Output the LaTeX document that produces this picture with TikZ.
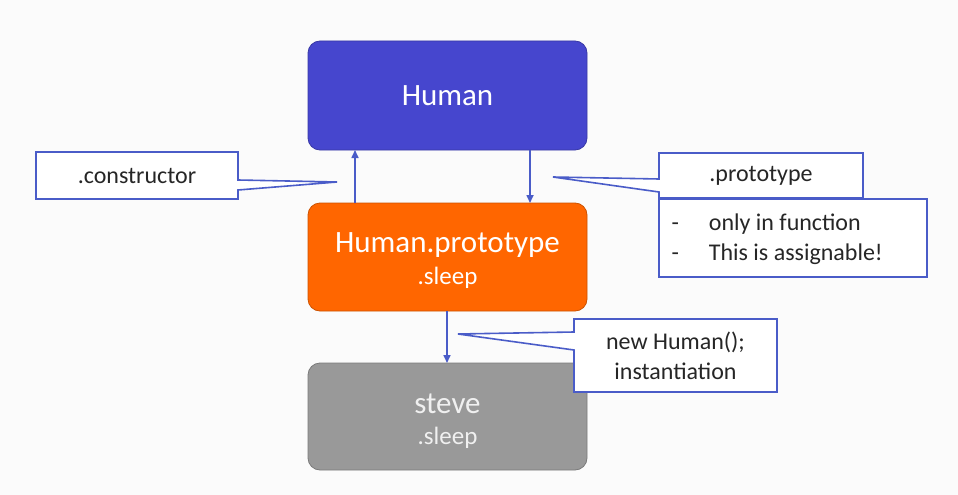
\documentclass[tikz,border=0pt]{standalone}
\usepackage{fontspec}
\setmainfont{Carlito}
\usetikzlibrary{arrows.meta}
\definecolor{hblue}{HTML}{4646CE}
\definecolor{horange}{HTML}{FF6600}
\definecolor{hgray}{HTML}{999999}
\definecolor{cline}{HTML}{4A5CC8}
\definecolor{bg}{HTML}{FBFBFB}
\begin{document}
\begin{tikzpicture}[x=1pt,y=-1pt,
  bigbox/.style={rounded corners=12pt,draw=#1!80!black,fill=#1,line width=0.8pt},
  callout/.style={draw=cline,fill=white,line width=1.6pt,line join=miter},
  ctext/.style={font=\fontsize{24}{30}\selectfont,align=center,text=black!85},
  arr/.style={draw=cline,line width=1.6pt,-{Triangle[length=8pt,width=7pt]}}]
\fill[bg] (0,0) rectangle (958,495);
\useasboundingbox (0,0) rectangle (958,495);
\filldraw[bigbox=hblue] (308,41) rectangle (587,150);
\node[text=white,font=\fontsize{31}{36}\selectfont] (human) at (447.5,96) {Human};
\filldraw[bigbox=horange] (308,203) rectangle (587,311);
\node[text=white,font=\fontsize{31}{36}\selectfont] (proto) at (447.5,245) {Human.prototype};
\node[text=white,font=\fontsize{25}{30}\selectfont] (psleep) at (447.5,278) {.sleep};
\filldraw[bigbox=hgray] (308,363) rectangle (587,470);
\node[text=white!94!black,font=\fontsize{31}{36}\selectfont] (steve) at (447.5,404) {steve};
\node[text=white!94!black,font=\fontsize{25}{30}\selectfont] (ssleep) at (447.5,438) {.sleep};
\coordinate (hb1) at (355,150); \coordinate (pt1) at (355,203);
\coordinate (hb2) at (530,150); \coordinate (pt2) at (530,203);
\coordinate (pb) at (447,311); \coordinate (st) at (447,363);
\draw[arr] (pt1) -- (hb1);
\draw[arr] (hb2) -- (pt2);
\draw[arr] (pb) -- (st);
% constructor callout
\draw[callout] (36,152) -- (238,152) -- (238,180) -- (337,182) -- (238,190) -- (238,199) -- (36,199) -- cycle;
\node[ctext] (cons) at (137,176) {.constructor};
% prototype callout
\draw[callout] (659,199) rectangle (927,277);
\draw[callout] (659,153) -- (863,153) -- (863,198) -- (659,198) -- (659,192) -- (553,177) -- (659,179) -- cycle;
\node[ctext] (ptext) at (761,176) {.prototype};
\node[ctext,align=left,anchor=west] (bul) at (668,239) {-\hspace{30pt}only in function\\-\hspace{30pt}This is assignable!};
% new Human callout
\draw[callout] (574,319) -- (777,319) -- (777,392) -- (574,392) -- (574,350) -- (458,334) -- (574,332) -- cycle;
\node[ctext] (newh) at (675.5,356) {new Human();\\instantiation};
\end{tikzpicture}
\end{document}
